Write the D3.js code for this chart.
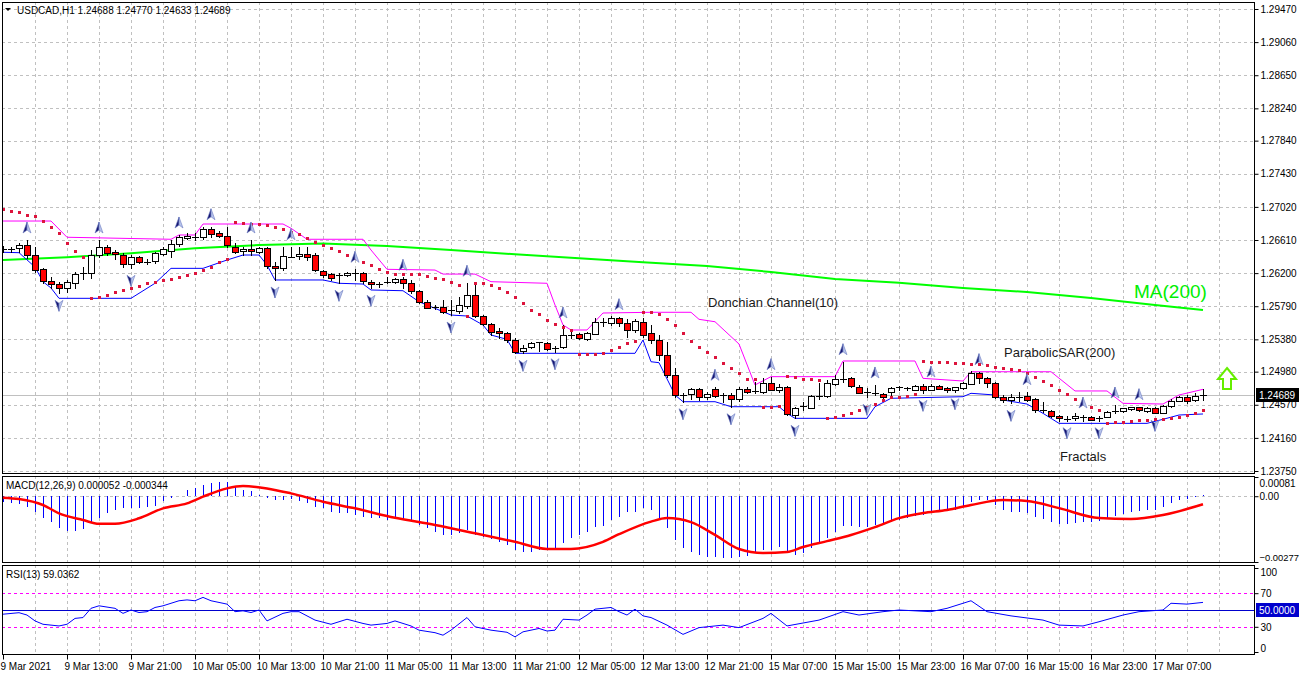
<!DOCTYPE html>
<html>
<head>
<meta charset="utf-8">
<script src="https://cdn.jsdelivr.net/npm/d3@7"></script>
<style>
body { margin:0; background:#fff; }
text { font-family:"Liberation Sans", Arial, sans-serif; }
</style>
</head>
<body>
<script>
// USDCAD H1, one value per bar (bar 0 = first visible bar)
var opens = [1.26499,1.26499,1.26507,1.26548,1.26424,1.26247,1.26106,1.26061,1.26012,1.26074,
1.26201,1.26204,1.26424,1.26527,1.26465,1.26424,1.26309,1.26396,1.26341,1.26341,
1.26436,1.26477,1.2656,1.26631,1.26651,1.26644,1.26742,1.26693,1.2666,1.26527,
1.26465,1.26495,1.26457,1.26507,1.26288,1.26259,1.26403,1.26412,1.26436,1.26424,
1.26226,1.26185,1.26176,1.26176,1.26204,1.26197,1.2609,1.26082,1.26094,1.26082,
1.26123,1.26074,1.25979,1.25846,1.25776,1.25776,1.25743,1.25734,1.25793,1.25929,
1.25669,1.2557,1.25484,1.25455,1.25372,1.25227,1.25281,1.25339,1.25339,1.25281,
1.25281,1.25434,1.25443,1.25384,1.25455,1.25586,1.25579,1.25641,1.25579,1.25496,
1.25598,1.25455,1.25372,1.25186,1.24939,1.24691,1.24703,1.24761,1.24658,1.24761,
1.24691,1.24691,1.24638,1.24765,1.24732,1.24732,1.24844,1.24753,1.24794,1.24443,
1.24546,1.24534,1.24679,1.2467,1.24827,1.24885,1.24897,1.24794,1.2472,1.24712,
1.24703,1.24732,1.24782,1.24774,1.24761,1.24806,1.24761,1.24806,1.24782,1.24745,
1.24774,1.24836,1.2496,1.24897,1.24844,1.2467,1.24621,1.2467,1.24683,1.24642,
1.24505,1.24493,1.2443,1.24402,1.24402,1.24422,1.24422,1.24414,1.24422,1.24493,
1.24493,1.24514,1.24538,1.24493,1.24534,1.24472,1.24555,1.24621,1.2467,1.24629,
1.24688];
var highs = [1.26536,1.26527,1.26576,1.2661,1.26527,1.26259,1.26155,1.26094,1.26115,1.26217,
1.26279,1.26486,1.2661,1.26548,1.26486,1.26445,1.26424,1.26412,1.26371,1.26465,
1.26527,1.2661,1.26672,1.26693,1.26693,1.26774,1.26774,1.26725,1.26774,1.26569,
1.26527,1.2661,1.26527,1.26527,1.26341,1.26527,1.26527,1.26527,1.26523,1.26445,
1.26238,1.26197,1.26197,1.26217,1.26247,1.26217,1.26115,1.26094,1.26148,1.26135,
1.26148,1.26115,1.25991,1.25867,1.25805,1.25867,1.25867,1.25908,1.26074,1.26053,
1.25681,1.25579,1.25517,1.25475,1.25393,1.2531,1.25351,1.25351,1.25351,1.25298,
1.25558,1.25496,1.25455,1.25471,1.25641,1.25641,1.25669,1.2566,1.25628,1.25628,
1.25641,1.25558,1.25434,1.25351,1.25022,1.24712,1.24774,1.24774,1.24732,1.24786,
1.24712,1.24712,1.24794,1.24786,1.24856,1.24897,1.24918,1.24827,1.24806,1.24546,
1.24608,1.24691,1.24836,1.24877,1.24939,1.25103,1.2491,1.24815,1.24774,1.24815,
1.2472,1.24794,1.24803,1.24794,1.24815,1.24827,1.24827,1.24815,1.24794,1.24794,
1.24852,1.24992,1.2498,1.24918,1.24856,1.24691,1.24703,1.24732,1.24732,1.2465,
1.24608,1.24505,1.24443,1.2443,1.24464,1.24443,1.24434,1.2443,1.24493,1.24567,
1.24534,1.24546,1.24546,1.24542,1.24546,1.24563,1.24637,1.24679,1.24691,1.24712,
1.2477];
var lows = [1.26461,1.26465,1.26465,1.26387,1.26217,1.26074,1.26012,1.2595,1.2597,1.26012,
1.26123,1.26135,1.26403,1.26424,1.26371,1.26279,1.26259,1.26321,1.26312,1.26321,
1.26424,1.26396,1.26536,1.26619,1.2661,1.26622,1.26651,1.26644,1.2652,1.26445,
1.26424,1.26424,1.26445,1.26259,1.26115,1.26238,1.26396,1.26371,1.26362,1.26229,
1.26155,1.26115,1.26074,1.26164,1.26115,1.26074,1.26012,1.26024,1.26074,1.26074,
1.26012,1.2595,1.25826,1.25764,1.25752,1.25702,1.25681,1.2571,1.25764,1.2566,
1.25558,1.25434,1.25393,1.25351,1.25207,1.25207,1.25269,1.2524,1.25248,1.25227,
1.25269,1.25393,1.2538,1.25372,1.25446,1.25545,1.25558,1.25545,1.25413,1.25475,
1.25413,1.25331,1.25124,1.24918,1.2467,1.24608,1.24642,1.24629,1.24642,1.2467,
1.24608,1.24546,1.24621,1.24712,1.24712,1.2472,1.24753,1.24732,1.24443,1.24402,
1.24505,1.24526,1.24642,1.24662,1.24815,1.24856,1.24786,1.24712,1.24662,1.24691,
1.24642,1.24654,1.24753,1.24753,1.24753,1.24712,1.24753,1.24761,1.24732,1.24732,
1.24765,1.24827,1.24836,1.24794,1.24654,1.24608,1.24588,1.24621,1.24621,1.24484,
1.24484,1.24414,1.24373,1.24373,1.24381,1.24373,1.24381,1.24373,1.24418,1.24464,
1.24484,1.24505,1.24493,1.24484,1.24464,1.24468,1.24546,1.24617,1.24596,1.24621,
1.24633];
var closes = [1.26502,1.26497,1.26548,1.26424,1.26238,1.26094,1.26065,1.26012,1.26086,1.26188,
1.26204,1.26424,1.26527,1.26457,1.26436,1.26309,1.26396,1.26333,1.26339,1.26445,
1.26495,1.2656,1.26644,1.2666,1.26653,1.26742,1.26681,1.2666,1.26548,1.26465,
1.26495,1.26465,1.26507,1.26288,1.26259,1.26412,1.26405,1.26436,1.26403,1.26238,
1.26176,1.26135,1.26172,1.26204,1.26207,1.26094,1.26065,1.26065,1.26096,1.26123,
1.26074,1.2597,1.25846,1.25776,1.2578,1.25714,1.25739,1.25805,1.25929,1.25672,
1.2557,1.25475,1.25455,1.25372,1.25227,1.25269,1.25331,1.25341,1.25269,1.25279,
1.25434,1.2543,1.25393,1.25455,1.25599,1.25589,1.25641,1.25579,1.25496,1.25607,
1.25434,1.25363,1.25186,1.24939,1.24691,1.24687,1.24761,1.24662,1.24699,1.24679,
1.24687,1.24638,1.24761,1.24724,1.24735,1.24844,1.24761,1.24785,1.24464,1.24526,
1.24549,1.24679,1.24683,1.24836,1.24885,1.24883,1.24794,1.2472,1.24722,1.24716,
1.24662,1.24782,1.24785,1.24778,1.24806,1.24761,1.24806,1.24774,1.24753,1.24786,
1.24836,1.24967,1.24897,1.24836,1.2467,1.24629,1.24662,1.24672,1.24638,1.24505,
1.24501,1.2443,1.24402,1.24399,1.2443,1.24424,1.2439,1.24411,1.24484,1.24489,
1.24526,1.24538,1.24497,1.24534,1.24472,1.24555,1.24621,1.2467,1.24621,1.24679,
1.24689];

// Parabolic SAR(200), one dot per bar
var sar = [1.2699,1.26972,1.26952,1.26919,1.2691,1.26849,1.26774,1.26693,1.26569,1.26474,1.26396,
1.25896,1.25908,1.25929,1.25962,1.25991,1.2602,1.26044,1.26074,1.26094,1.26115,1.26131,1.26155,1.26176,1.26197,1.26238,1.26279,1.26334,1.26379,
1.26833,1.26824,1.26808,1.26808,1.26796,1.26774,1.26746,1.26713,1.2668,1.26631,1.26589,
1.26548,1.26515,1.26474,1.26424,1.26383,1.26341,1.263,1.2625,1.26209,1.26185,1.26185,1.26185,1.26185,1.26168,1.26135,1.26123,1.26086,1.26053,
1.25672,
1.26074,1.26074,1.26053,1.26012,1.2597,1.259,1.25826,1.25743,1.25694,1.2562,1.2557,1.25529,1.25496,
1.25199,1.25195,1.25199,1.25207,1.25248,1.25289,1.25331,1.25363,
1.25722,1.25722,1.25694,1.25628,1.25558,1.25455,1.25363,1.25289,1.25227,1.25158,1.25091,1.25022,1.2496,1.2489,1.2489,
1.24539,1.24546,1.24555,
1.24926,1.24908,1.2489,1.24885,1.24877,
1.24402,1.24422,1.24443,1.24472,1.24505,1.24546,1.24579,1.24629,1.24662,1.2467,1.24679,1.24703,
1.25116,1.25103,1.25103,1.25096,1.25087,1.25083,1.25075,1.25071,1.25062,1.25041,1.25029,1.25009,1.25001,1.24963,1.24918,1.24868,1.24815,1.24753,1.24699,1.24637,1.24592,1.24546,1.24505,
1.24348,1.2436,1.2436,1.24373,1.24381,1.24381,1.2439,1.24397,1.24406,1.24422,1.24443,1.24464,1.24505];

// MA(200) read every 8 bars
var maBars = [0,8,16,24,32,40,48,56,64,72,80,88,96,104,112,120,128,136,144,150];
var maVals = [1.26363,1.26396,1.26446,1.26507,1.26548,1.26567,1.26536,1.26486,1.26433,1.26384,
1.26334,1.26288,1.26214,1.26127,1.26082,1.26016,1.25967,1.25892,1.25806,1.25744];

// Donchian Channel(10) breakpoints [bar, price]
var dcUpper = [[0,1.26845],[6,1.26845],[8,1.26644],[21,1.26619],[22,1.26672],[24,1.26672],[25,1.26808],
[35,1.26808],[36,1.26755],[38,1.26619],[45,1.26619],[46,1.26486],[48,1.26247],[54,1.26238],[55,1.26188],
[59,1.26188],[61,1.26094],[68,1.26074],[69,1.25805],[70,1.25558],[71,1.25496],[73,1.25496],[75,1.25706],
[81,1.25715],[86,1.25715],[87,1.25628],[89,1.25598],[92,1.25322],[94,1.24815],[96,1.24918],[104,1.24918],
[105,1.25112],[114,1.25112],[115,1.24897],[120,1.24864],[121,1.24979],[131,1.24979],[134,1.24741],
[138,1.24741],[140,1.24588],[145,1.24579],[147,1.24691],[150,1.24761]];
var dcLower = [[0,1.26458],[2,1.26453],[4,1.26275],[5,1.26094],[6,1.26016],[7,1.25888],[16,1.25888],
[19,1.26074],[21,1.26259],[25,1.26259],[28,1.26362],[30,1.26424],[32,1.26424],[33,1.263],[34,1.26115],
[40,1.26115],[42,1.26074],[45,1.26065],[46,1.25991],[50,1.25982],[52,1.25846],[54,1.25764],[56,1.25681],
[58,1.25669],[60,1.25558],[61,1.25434],[63,1.2538],[64,1.25207],[79,1.25207],[80,1.25372],[81,1.25103],
[82,1.25091],[84,1.24691],[85,1.24608],[89,1.24608],[91,1.24546],[97,1.24546],[98,1.24464],[99,1.24402],
[108,1.24402],[109,1.24546],[111,1.2465],[120,1.2467],[121,1.24712],[124,1.24691],[125,1.24629],
[128,1.24579],[130,1.24464],[132,1.2434],[143,1.2434],[145,1.2439],[147,1.24443],[150,1.24456]];

// Fractals (bars)
var fracUp = [3,12,22,26,31,36,44,50,58,70,77,89,96,105,109,116,122,128,135,139,142];
var fracDown = [7,16,34,42,46,56,65,69,85,91,99,108,115,119,126,133,137,144];

// MACD(12,26,9): main per bar, signal read at [bar, value]
var macdMain = [-0.00023,-0.0003,-0.00034,-0.00044,-0.00065,-0.00093,-0.00107,-0.00135,-0.00147,-0.00147,
-0.00138,-0.00114,-0.00093,-0.00072,-0.00058,-0.00051,-0.00051,-0.00048,-0.00044,-0.0004,
-0.0002,-0.00009,0.00002,0.00026,0.00036,0.00047,0.00054,0.00061,0.00059,0.0004,
0.00026,0.00022,0.00005,-0.00009,-0.00016,-0.00016,-0.00012,-0.0002,-0.0003,-0.00044,
-0.00051,-0.00065,-0.00072,-0.00072,-0.00079,-0.00086,-0.00091,-0.00093,-0.001,-0.00093,
-0.00097,-0.00107,-0.00121,-0.00135,-0.00149,-0.00163,-0.00163,-0.00156,-0.00142,-0.00163,
-0.00171,-0.0018,-0.00192,-0.00205,-0.00226,-0.00234,-0.00234,-0.00226,-0.00226,-0.00222,
-0.00198,-0.00177,-0.00163,-0.00149,-0.00128,-0.00124,-0.001,-0.00086,-0.00065,-0.00068,
-0.0005,-0.00058,-0.00092,-0.00134,-0.00184,-0.00218,-0.00235,-0.00248,-0.00256,-0.00256,
-0.0026,-0.0026,-0.00256,-0.00252,-0.00239,-0.00226,-0.00226,-0.00214,-0.00239,-0.00248,
-0.00239,-0.00218,-0.00197,-0.00176,-0.00151,-0.00125,-0.00125,-0.0013,-0.0013,-0.00121,
-0.00121,-0.00109,-0.001,-0.00092,-0.00083,-0.00079,-0.00071,-0.00067,-0.00062,-0.00058,
-0.00045,-0.00024,-0.00016,-0.00016,-0.00037,-0.00058,-0.00067,-0.00067,-0.00071,-0.00088,
-0.00096,-0.00109,-0.00117,-0.00117,-0.00113,-0.00109,-0.00109,-0.00104,-0.00092,-0.00083,
-0.00075,-0.00067,-0.00062,-0.00058,-0.00058,-0.00045,-0.00029,-0.00016,-0.00012,-0.00003,
0.00005];
var macdSignal = [[0,-0.00006],[2,-0.00012],[5,-0.00037],[7,-0.00072],[10,-0.001],[12,-0.00116],[14,-0.00116],
[17,-0.00093],[20,-0.00051],[23,-0.0003],[25,-0.00002],[28,0.00033],[30,0.00043],[33,0.00033],[36,0.00012],
[40,-0.00023],[44,-0.00051],[49,-0.00091],[54,-0.00121],[59,-0.00156],[64,-0.00192],[68,-0.00222],
[71,-0.00222],[75,-0.00192],[77,-0.0016],[81,-0.00107],[83,-0.00092],[86,-0.00109],[89,-0.00163],
[92,-0.00222],[95,-0.00239],[98,-0.00235],[100,-0.00214],[103,-0.00189],[106,-0.00163],[109,-0.0013],
[112,-0.00092],[115,-0.00071],[118,-0.00058],[121,-0.00037],[125,-0.00016],[128,-0.0002],[132,-0.0005],
[137,-0.00092],[141,-0.00096],[145,-0.00079],[150,-0.00034]];

// RSI(13) read at [bar, value]
var rsi = [[0,45],[2,46.8],[3,44],[4,37],[5,33],[7,31],[8,33],[9,40],[10,41],[11,52],[12,55],[14,52],[15,46],
[16,50],[17,47],[18,48],[19,53],[20,55],[22,61],[23,62],[24,61],[25,65],[26,61],[28,57],[29,48],[30,49],
[31,47],[32,50],[33,37],[35,46],[36,48],[37,48],[39,38],[41,33],[43,39],[45,34],[46,32],[48,34],[49,37],
[51,31],[52,26],[54,23],[55,20],[56,26],[58,41],[59,30],[61,26],[63,23.5],[64,18],[65,24],[67,28],[68,25],
[69,26],[70,39],[72,38],[73,44],[74,51],[76,53],[77,48],[78,44],[79,51],[80,43],[81,41],[83,32],[85,21],
[87,29],[90,32],[92,29],[95,40],[96,46],[98,31],[102,38],[105,48],[107,44],[110,48],[112,50],[116,48],
[118,52],[121,61],[123,48],[126,43],[130,38],[132,32],[135,31],[137,36],[140,44],[142,48],[145,50],
[146,58],[148,57],[150,59.04]];

var priceTicks = [1.2947,1.2906,1.2865,1.2824,1.2784,1.2743,1.2702,1.2661,1.262,1.2579,1.2538,1.2498,1.2457,1.2416,1.2375];
var timeBars = [0,8,16,24,32,40,48,56,64,72,80,88,96,104,112,120,128,136,144];
var timeLabels = ["9 Mar 2021","9 Mar 13:00","9 Mar 21:00","10 Mar 05:00","10 Mar 13:00","10 Mar 21:00",
"11 Mar 05:00","11 Mar 13:00","11 Mar 21:00","12 Mar 05:00","12 Mar 13:00","12 Mar 21:00","15 Mar 07:00",
"15 Mar 15:00","15 Mar 23:00","16 Mar 07:00","16 Mar 15:00","16 Mar 23:00","17 Mar 07:00"];
var lastPrice = 1.24689;

var W = 1300, H = 675;
var L = 2, R = 1254;
var mainTop = 2, mainBot = 473, macdTop = 476, macdBot = 562, rsiTop = 565, rsiBot = 654;

var svg = d3.select("body").append("svg").attr("width", W).attr("height", H);

var x = d3.scaleLinear().domain([0, 150]).range([3, 1203]);
var y = d3.scaleLinear().domain([1.2375, 1.2947]).range([471, 9]);
var yM = d3.scaleLinear().domain([-0.00277, 0.00081]).range([562, 477]);
var yR = d3.scaleLinear().domain([0, 100]).range([652, 568]);

var px = function(i){ return Math.round(x(i)) + 0.5; };
var gridBars = d3.range(4, 153, 4);
var gridCol = "#c0c0c0";

// clip paths
var defs = svg.append("defs");
[["cMain", mainTop, mainBot], ["cMacd", macdTop, macdBot], ["cRsi", rsiTop, rsiBot]].forEach(function(c){
  defs.append("clipPath").attr("id", c[0]).append("rect")
    .attr("x", L).attr("y", c[1]).attr("width", R - L).attr("height", c[2] - c[1]);
});

function vgrid(g, top, bot) {
  g.selectAll(null).data(gridBars).enter().append("line")
    .attr("x1", px).attr("x2", px).attr("y1", top).attr("y2", bot)
    .attr("stroke", gridCol).attr("stroke-dasharray", "3,3");
}

// ---------- main panel ----------
var main = svg.append("g").attr("clip-path", "url(#cMain)");
vgrid(main, mainTop, mainBot);
main.selectAll(null).data(priceTicks).enter().append("line")
  .attr("x1", L).attr("x2", R)
  .attr("y1", function(d){ return Math.round(y(d)) + 0.5; })
  .attr("y2", function(d){ return Math.round(y(d)) + 0.5; })
  .attr("stroke", gridCol).attr("stroke-dasharray", "3,3");

// current price line
main.append("line").attr("x1", L).attr("x2", R)
  .attr("y1", Math.round(y(lastPrice)) + 0.5).attr("y2", Math.round(y(lastPrice)) + 0.5)
  .attr("stroke", "#c0c0c0");

// MA(200)
main.append("path")
  .attr("d", d3.line().x(function(d, i){ return x(maBars[i]); }).y(function(d){ return y(d); })(maVals))
  .attr("fill", "none").attr("stroke", "#00ff00").attr("stroke-width", 2);

// Donchian channel
var dcLine = d3.line().x(function(d){ return x(d[0]); }).y(function(d){ return y(d[1]); });
main.append("path").attr("d", dcLine(dcUpper)).attr("fill", "none").attr("stroke", "#ff00ff").attr("stroke-width", 1);
main.append("path").attr("d", dcLine(dcLower)).attr("fill", "none").attr("stroke", "#0000ff").attr("stroke-width", 1);

// candles
var bars = d3.range(closes.length);
var cg = main.append("g").attr("shape-rendering", "crispEdges");
cg.selectAll(".wick").data(bars).enter().append("line")
  .attr("x1", px).attr("x2", px)
  .attr("y1", function(i){ return Math.round(y(highs[i])); })
  .attr("y2", function(i){ return Math.round(y(lows[i])) + 1; })
  .attr("stroke", "#000");
cg.selectAll(".body").data(bars.filter(function(i){ return Math.abs(y(opens[i]) - y(closes[i])) >= 1.5; }))
  .enter().append("rect")
  .attr("x", function(i){ return Math.round(x(i)) - 2.5; })
  .attr("width", 6)
  .attr("y", function(i){ return Math.round(y(Math.max(opens[i], closes[i]))) + 0.5; })
  .attr("height", function(i){ return Math.round(Math.abs(y(opens[i]) - y(closes[i]))); })
  .attr("fill", function(i){ return closes[i] < opens[i] ? "#ff0000" : "#ffffff"; })
  .attr("stroke", "#000");
cg.selectAll(".doji").data(bars.filter(function(i){ return Math.abs(y(opens[i]) - y(closes[i])) < 1.5; }))
  .enter().append("line")
  .attr("x1", function(i){ return Math.round(x(i)) - 3; })
  .attr("x2", function(i){ return Math.round(x(i)) + 4; })
  .attr("y1", function(i){ return Math.round(y(closes[i])) + 0.5; })
  .attr("y2", function(i){ return Math.round(y(closes[i])) + 0.5; })
  .attr("stroke", "#000");

// parabolic SAR dots
main.selectAll(".sar").data(bars).enter().append("rect")
  .attr("x", function(i){ return Math.round(x(i)) - 1; })
  .attr("y", function(i){ return Math.round(y(sar[i])) - 1; })
  .attr("width", 3).attr("height", 3)
  .attr("fill", "#dc143c");

// fractals: two-tone arrowheads
var upDark = "M0,-6 L0,2 L-4,5 Z", upLight = "M0,-6 L4,5 L0,2 Z";
var dnDark = "M0,6 L0,-2 L-4,-5 Z", dnLight = "M0,6 L4,-5 L0,-2 Z";
function fractal(list, dark, light, off, src) {
  var g = main.selectAll(null).data(list).enter().append("g")
    .attr("transform", function(i){ return "translate(" + x(i) + "," + (y(src[i]) + off) + ")"; });
  g.append("path").attr("d", dark).attr("fill", "#141470").attr("stroke", "#6a78c0").attr("stroke-width", 0.6);
  g.append("path").attr("d", light).attr("fill", "#b8c4ec").attr("stroke", "#6a78c0").attr("stroke-width", 0.6);
}
fractal(fracUp, upDark, upLight, -12, highs);
fractal(fracDown, dnDark, dnLight, 12, lows);

// annotations
svg.append("text").attr("x", 708).attr("y", 307).attr("font-size", 13).attr("fill", "#1a1a1a").text("Donchian Channel(10)");
svg.append("text").attr("x", 1004).attr("y", 357).attr("font-size", 13).attr("fill", "#1a1a1a").text("ParabolicSAR(200)");
svg.append("text").attr("x", 1060).attr("y", 461).attr("font-size", 13).attr("fill", "#1a1a1a").text("Fractals");
svg.append("text").attr("x", 1134).attr("y", 298).attr("font-size", 19).attr("fill", "#00ee00").text("MA(200)");
svg.append("path")
  .attr("d", "M1227,368 L1236,379 L1231,379 L1231,389 L1223,389 L1223,379 L1218,379 Z")
  .attr("fill", "#ffffff").attr("stroke", "#66ee00").attr("stroke-width", 2);

// header
svg.append("path").attr("d", "M5,8 L11,8 L8,11 Z").attr("fill", "#000");
svg.append("text").attr("x", 17).attr("y", 14).attr("font-size", 10).attr("fill", "#000")
  .text("USDCAD,H1  1.24688 1.24770 1.24633 1.24689");

// ---------- MACD panel ----------
var mg = svg.append("g").attr("clip-path", "url(#cMacd)");
vgrid(mg, macdTop, macdBot);
mg.append("line").attr("x1", L).attr("x2", R)
  .attr("y1", Math.round(yM(0)) + 0.5).attr("y2", Math.round(yM(0)) + 0.5)
  .attr("stroke", gridCol).attr("stroke-dasharray", "3,3");
mg.selectAll(".h").data(bars).enter().append("line")
  .attr("x1", px).attr("x2", px)
  .attr("y1", Math.round(yM(0)))
  .attr("y2", function(i){ return yM(macdMain[i]); })
  .attr("stroke", "#0000ff").attr("shape-rendering", "crispEdges");
mg.append("path")
  .attr("d", d3.line().x(function(d){ return x(d[0]); }).y(function(d){ return yM(d[1]); }).curve(d3.curveMonotoneX)(macdSignal))
  .attr("fill", "none").attr("stroke", "#ff0000").attr("stroke-width", 2.5);
svg.append("text").attr("x", 6).attr("y", 489).attr("font-size", 10).attr("fill", "#000")
  .text("MACD(12,26,9) 0.000052 -0.000344");

// ---------- RSI panel ----------
var rg = svg.append("g").attr("clip-path", "url(#cRsi)");
vgrid(rg, rsiTop, rsiBot);
[70, 30].forEach(function(v){
  rg.append("line").attr("x1", L).attr("x2", R)
    .attr("y1", Math.round(yR(v)) + 0.5).attr("y2", Math.round(yR(v)) + 0.5)
    .attr("stroke", "#ff00ff").attr("stroke-dasharray", "3,3");
});
rg.append("line").attr("x1", L).attr("x2", R)
  .attr("y1", Math.round(yR(50)) + 0.5).attr("y2", Math.round(yR(50)) + 0.5)
  .attr("stroke", "#0000cd");
rg.append("path")
  .attr("d", d3.line().x(function(d){ return x(d[0]); }).y(function(d){ return yR(d[1]); })(rsi))
  .attr("fill", "none").attr("stroke", "#0000ff").attr("stroke-width", 1);
svg.append("text").attr("x", 6).attr("y", 578).attr("font-size", 10).attr("fill", "#000").text("RSI(13) 59.0362");

// ---------- panel borders ----------
[[mainTop, mainBot], [macdTop, macdBot], [rsiTop, rsiBot]].forEach(function(p){
  svg.append("rect").attr("x", L + 0.5).attr("y", p[0] + 0.5)
    .attr("width", R - L).attr("height", p[1] - p[0])
    .attr("fill", "none").attr("stroke", "#000").attr("shape-rendering", "crispEdges");
});

// ---------- axes ----------
function styleAxis(g) {
  g.select(".domain").remove();
  g.selectAll("text").attr("font-size", 10).attr("fill", "#000")
    .style("font-family", "'Liberation Sans', Arial, sans-serif");
  g.selectAll(".tick line").attr("stroke", "#000");
}
var pAxis = d3.axisRight(y).tickValues(priceTicks).tickFormat(d3.format(".5f")).tickSize(4).tickPadding(2);
svg.append("g").attr("transform", "translate(" + (R + 0.5) + ",0)").call(pAxis).call(styleAxis);

var mAxis = d3.axisRight(yM).tickValues([0.00081, 0, -0.00277])
  .tickFormat(function(d){ return d === 0 ? "0.00" : d3.format(".5f")(d); }).tickSize(4).tickPadding(1);
var mAx = svg.append("g").attr("transform", "translate(" + (R + 0.5) + ",0)").call(mAxis).call(styleAxis);
mAx.selectAll(".tick text")
  .attr("dy", function(d){ return d === 0.00081 ? "0.95em" : d < 0 ? "-0.2em" : "0.32em"; })
  .attr("font-size", function(d){ return d < 0 ? 9.4 : 10; });

var rAxis = d3.axisRight(yR).tickValues([100, 70, 30, 0]).tickSize(4).tickPadding(2);
var rAx = svg.append("g").attr("transform", "translate(" + (R + 0.5) + ",0)").call(rAxis).call(styleAxis);
rAx.selectAll(".tick text").attr("dy", function(d){ return d === 100 ? "0.75em" : d === 0 ? "-0.1em" : "0.32em"; });

var tAxis = d3.axisBottom(x).tickValues(timeBars).tickFormat(function(d, i){ return timeLabels[i]; }).tickSize(5).tickPadding(3);
var tAx = svg.append("g").attr("transform", "translate(0," + (rsiBot + 0.5) + ")").call(tAxis).call(styleAxis);
tAx.selectAll(".tick text").attr("text-anchor", "start").attr("dx", -3);

// value boxes on the price scale
function valueBox(yy, label, bg, fg) {
  svg.append("rect").attr("x", R + 2).attr("y", Math.round(yy) - 7).attr("width", 43).attr("height", 14).attr("fill", bg);
  svg.append("text").attr("x", R + 5).attr("y", Math.round(yy) + 4).attr("font-size", 10).attr("fill", fg).text(label);
}
valueBox(y(lastPrice), d3.format(".5f")(lastPrice), "#000000", "#ffffff");
valueBox(yR(50), "50.0000", "#0000cd", "#ffffff");
</script>
</body>
</html>
